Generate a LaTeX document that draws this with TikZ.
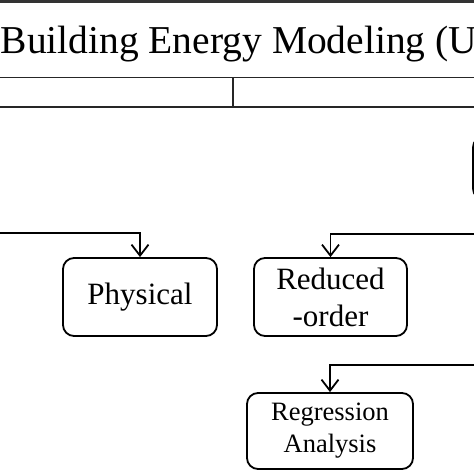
\documentclass[tikz,border=0pt]{standalone}
\usepackage{fontspec}
\setmainfont{Liberation Serif}
\usetikzlibrary{arrows.meta}
\tikzset{
  box/.style={draw=black, line width=1.8pt, rounded corners=11pt, align=center, inner sep=0pt},
  big/.style={font=\fontsize{31}{37}\selectfont},
  small/.style={font=\fontsize{26.5}{32}\selectfont},
  conn/.style={draw=black, line width=1.8pt, -{Straight Barb[length=11pt,width=17pt,line width=1.8pt]}},
  rule/.style={draw=black!85, line width=1.5pt}
}
\begin{document}
\begin{tikzpicture}[x=1pt,y=1pt]
\useasboundingbox (0,0) rectangle (474,474);
\fill[white] (0,0) rectangle (474,474);
\clip (0,0) rectangle (474,474);
% top border
\draw[draw=black!80, line width=3pt] (-5,472.5) -- (480,472.5);
% title
\node[anchor=base west, inner sep=0pt, font=\fontsize{39.5}{47}\selectfont] (title) at (0.5,420) {Building Energy Modeling (U};
% strip
\draw[rule] (-5,396.5) -- (480,396.5);
\draw[rule] (-5,367) -- (480,367);
\draw[rule] (233,396.5) -- (233,367);
% right box (cut off)
\node[draw=black, line width=2.8pt, rounded corners=12pt, minimum width=80pt, minimum height=64pt, anchor=west] (right) at (472,306) {};
% boxes
\node[box, big, minimum width=154pt, minimum height=78pt] (phys) at (140,177) {Physical};
\node[box, big, minimum width=153pt, minimum height=78pt] (red) at (330.5,177) {Reduced\\-order};
\node[box, small, minimum width=166pt, minimum height=76pt] (reg) at (330,43) {Regression\\Analysis};
% free ends
\coordinate (a1) at (-5,241);
\coordinate (a2) at (480,240);
\coordinate (a3) at (480,109);
\draw[conn] (a1) -| (phys.north);
\draw[conn] (a2) -| (red.north);
\draw[conn] (a3) -| (reg.north);
\end{tikzpicture}
\end{document}
